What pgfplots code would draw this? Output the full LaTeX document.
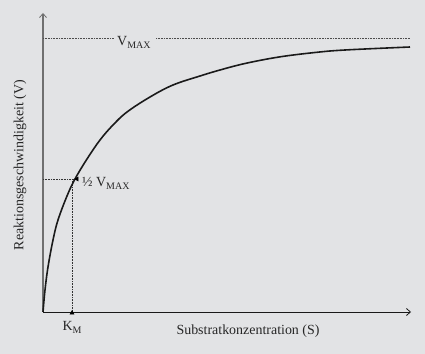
\documentclass[border=0pt]{standalone}
\usepackage{pgfplots}
\pgfplotsset{compat=1.18}
\usepackage{fontspec}
\setmainfont{Liberation Serif}
\usetikzlibrary{arrows.meta}
\definecolor{bg}{HTML}{E2E3E5}
\definecolor{curve}{HTML}{1A1A1A}
\definecolor{yax}{HTML}{707070}
\newcommand{\lbl}{\fontsize{14}{16}\selectfont}
\newcommand{\sub}[1]{\raisebox{-0.45ex}{\fontsize{10}{11}\selectfont #1}}
\begin{document}
\begin{tikzpicture}
\begin{axis}[
  width=425bp, height=354bp, scale only axis,
  xmin=-43, xmax=382, ymin=-42, ymax=312,
  axis line style={draw=none}, ticks=none,
  axis background/.style={fill=bg},
  clip=false,
]
% axes
\addplot[yax, line width=1.6pt, -{Straight Barb[length=4pt,width=7pt,line width=0.8pt]}] coordinates {(0,0) (0,299)};
\addplot[black!90, line width=1pt, -{Straight Barb[length=4pt,width=7pt,line width=0.8pt]}] coordinates {(0,0) (368,0)};
% Vmax dotted line
\addplot[black!70, line width=0.6pt, dash pattern=on 0.8pt off 0.8pt] coordinates {(0,274) (71,274)};
\addplot[black!70, line width=0.6pt, dash pattern=on 0.8pt off 0.8pt] coordinates {(113,274) (367,274)};
% half Vmax and Km dotted lines
\addplot[black!80, line width=0.6pt, dash pattern=on 0.8pt off 0.8pt] coordinates {(0,133) (31,133)};
\addplot[black!80, line width=0.6pt, dash pattern=on 0.8pt off 0.8pt] coordinates {(29,133) (29,0)};
% curve
\addplot[curve, line width=1.6pt, smooth, tension=0.6] coordinates {
 (0,0) (2,22) (5,45) (10,72) (15,92) (24,116) (32,133) (44,153) (57,172) (70,187)
 (84,200) (107,215) (130,227) (157,236) (177,242) (202,248.5) (236,255) (272,259.5) (302,262) (367,265)
};
% markers
\addplot[only marks, mark=triangle*, mark size=2.4pt, black, mark options={rotate=90}] coordinates {(34,133)};
\addplot[only marks, mark=triangle*, mark size=2.4pt, black] coordinates {(29,-1)};
% labels
\node[anchor=west, inner sep=1pt, text=black!85] at (axis cs:73,270) {\lbl V\sub{MAX}};
\node[anchor=west, inner sep=1pt, text=black!85] at (axis cs:38,129) {\lbl ½ V\sub{MAX}};
\node[inner sep=1pt, text=black!85] at (axis cs:29,-15) {\lbl K\sub{M}};
\node[inner sep=1pt, text=black!85] at (axis cs:205,-19) {\lbl Substratkonzentration (S)};
\node[rotate=90, inner sep=1pt, text=black!85] at (axis cs:-23,147) {\lbl Reaktionsgeschwindigkeit (V)};
\end{axis}
\end{tikzpicture}
\end{document}
